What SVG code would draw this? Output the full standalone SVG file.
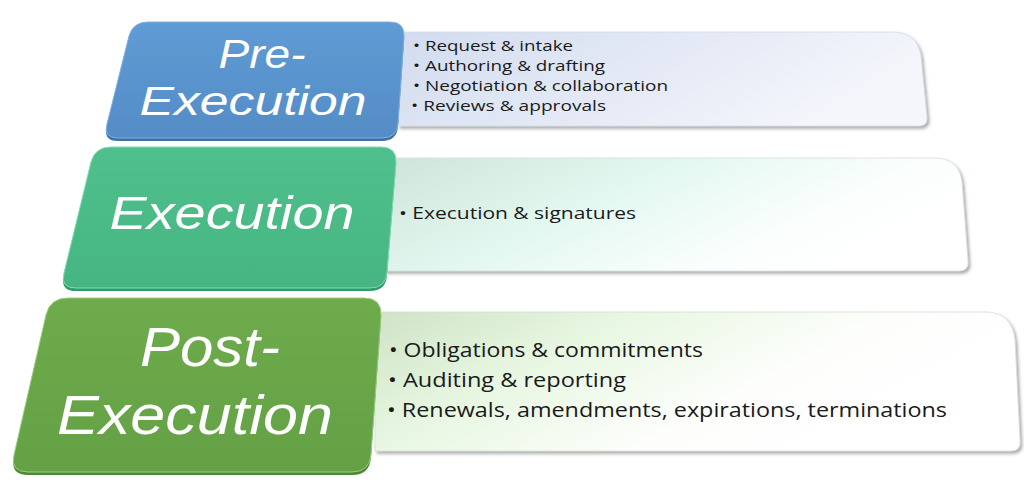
<svg xmlns="http://www.w3.org/2000/svg" width="1024" height="486" viewBox="0 0 1024 486">
<style>
.lbl{font-family:"Liberation Sans","Open Sans",sans-serif;font-style:italic;fill:#ffffff;text-anchor:middle}
.bt{font-family:"Open Sans","Liberation Sans",sans-serif;fill:#1a1a1a}
</style>
<defs>
<filter id="sh" x="-5%" y="-10%" width="112%" height="130%">
<feDropShadow dx="2" dy="2.5" stdDeviation="1.5" flood-color="#6b6b6b" flood-opacity="0.55"/>
</filter>
<linearGradient id="p1" x1="0" y1="0" x2="1" y2="0.3">
<stop offset="0" stop-color="#d2dcef"/><stop offset="0.6" stop-color="#e6ebf6"/><stop offset="1" stop-color="#f4f6fb"/>
</linearGradient>
<linearGradient id="p2" x1="0" y1="0" x2="1" y2="0.4">
<stop offset="0" stop-color="#cfe4d9"/><stop offset="0.45" stop-color="#e3f8f0"/><stop offset="0.8" stop-color="#fafefd"/><stop offset="1" stop-color="#ffffff"/>
</linearGradient>
<linearGradient id="p3" x1="0" y1="0" x2="1" y2="0.4">
<stop offset="0" stop-color="#cfe3c6"/><stop offset="0.35" stop-color="#e8f7e2"/><stop offset="0.7" stop-color="#fdfefc"/><stop offset="1" stop-color="#ffffff"/>
</linearGradient>
<linearGradient id="t1" x1="0" y1="0" x2="0" y2="1">
<stop offset="0" stop-color="#5f9bd4"/><stop offset="1" stop-color="#548cc6"/>
</linearGradient>
<linearGradient id="t2" x1="0" y1="0" x2="0" y2="1">
<stop offset="0" stop-color="#4fc08d"/><stop offset="1" stop-color="#46b582"/>
</linearGradient>
<linearGradient id="t3" x1="0" y1="0" x2="0" y2="1">
<stop offset="0" stop-color="#6dab4c"/><stop offset="1" stop-color="#64a145"/>
</linearGradient>
</defs>

<g id="row1">
<path d="M 398,32 L 893,32 Q 917,32 921,56 L 927,117 Q 928,126 919,126 L 398,126 Z" fill="url(#p1)" stroke="#d6dbe3" stroke-width="0.8" filter="url(#sh)"/>
<path d="M 148,25 L 390,25 Q 405,25 404,40 L 398,126 Q 397,141 382,141 L 118,141 Q 103,141 107,127 L 129,39 Q 133,25 148,25 Z" fill="#3f70a6"/>
<path d="M 148,22 L 390,22 Q 405,22 404,37 L 398,123 Q 397,138 382,138 L 118,138 Q 103,138 107,124 L 129,36 Q 133,22 148,22 Z" fill="url(#t1)" stroke="#7fb0e0" stroke-width="1"/>
<text class="lbl" x="262" y="68" font-size="41" textLength="87" lengthAdjust="spacingAndGlyphs">Pre-</text>
<text class="lbl" x="253" y="115" font-size="41" textLength="227" lengthAdjust="spacingAndGlyphs">Execution</text>
<text class="bt" x="413" y="51" font-size="14.5" textLength="160" lengthAdjust="spacingAndGlyphs">• Request &amp; intake</text>
<text class="bt" x="413" y="71" font-size="14.5" textLength="192" lengthAdjust="spacingAndGlyphs">• Authoring &amp; drafting</text>
<text class="bt" x="413" y="91" font-size="14.5" textLength="255" lengthAdjust="spacingAndGlyphs">• Negotiation &amp; collaboration</text>
<text class="bt" x="411" y="111" font-size="14.5" textLength="195" lengthAdjust="spacingAndGlyphs">• Reviews &amp; approvals</text>
</g>

<g id="row2">
<path d="M 385,158 L 935,158 Q 959,158 962,182 L 968,261 Q 969,271 959,271 L 385,271 Z" fill="url(#p2)" stroke="#d6dfdb" stroke-width="0.8" filter="url(#sh)"/>
<path d="M 111,150 L 381,150 Q 397,150 396,166 L 387,275 Q 386,291 370,291 L 76,291 Q 60,291 64,276 L 91,165 Q 95,150 111,150 Z" fill="#2f9a6a"/>
<path d="M 111,147 L 381,147 Q 397,147 396,163 L 387,272 Q 386,288 370,288 L 76,288 Q 60,288 64,273 L 91,162 Q 95,147 111,147 Z" fill="url(#t2)" stroke="#7fdcb2" stroke-width="1"/>
<text class="lbl" x="232" y="229" font-size="47" textLength="245" lengthAdjust="spacingAndGlyphs">Execution</text>
<text class="bt" x="399" y="219" font-size="16.5" textLength="237" lengthAdjust="spacingAndGlyphs">• Execution &amp; signatures</text>
</g>

<g id="row3">
<path d="M 375,312 L 985,312 Q 1012,312 1015,340 L 1020,441 Q 1021,451 1011,451 L 375,451 Z" fill="url(#p3)" stroke="#d8ddd5" stroke-width="0.8" filter="url(#sh)"/>
<path d="M 68,301 L 364,301 Q 382,301 381,319 L 371,457 Q 370,475 352,475 L 28,475 Q 10,475 14,458 L 46,318 Q 50,301 68,301 Z" fill="#4d8834"/>
<path d="M 68,298 L 364,298 Q 382,298 381,316 L 371,454 Q 370,472 352,472 L 28,472 Q 10,472 14,455 L 46,315 Q 50,298 68,298 Z" fill="url(#t3)" stroke="#9ccc7e" stroke-width="1"/>
<text class="lbl" x="210" y="366" font-size="56" textLength="140" lengthAdjust="spacingAndGlyphs">Post-</text>
<text class="lbl" x="195" y="434" font-size="56" textLength="276" lengthAdjust="spacingAndGlyphs">Execution</text>
<text class="bt" x="389" y="357" font-size="20" textLength="314" lengthAdjust="spacingAndGlyphs">• Obligations &amp; commitments</text>
<text class="bt" x="388" y="387" font-size="20" textLength="238" lengthAdjust="spacingAndGlyphs">• Auditing &amp; reporting</text>
<text class="bt" x="387" y="417" font-size="20" textLength="560" lengthAdjust="spacingAndGlyphs">• Renewals, amendments, expirations, terminations</text>
</g>
</svg>
